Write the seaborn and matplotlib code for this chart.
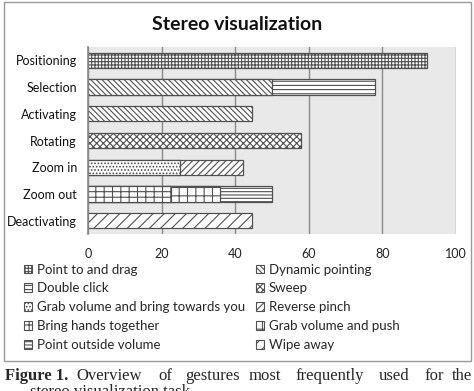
import matplotlib
matplotlib.use("Agg")
import matplotlib.pyplot as plt
from matplotlib.patches import Patch, Rectangle
import pandas as pd
import seaborn as sns

categories = ['Positioning', 'Selection', 'Activating', 'Rotating',
              'Zoom in', 'Zoom out', 'Deactivating']

gestures = ['Point to and drag', 'Dynamic pointing', 'Double click', 'Sweep',
            'Grab volume and bring towards you', 'Reverse pinch',
            'Bring hands together', 'Grab volume and push',
            'Point outside volume', 'Wipe away']

point_to_and_drag = [92, 0, 0, 0, 0, 0, 0]
dynamic_pointing = [0, 50, 44.5, 0, 0, 0, 0]
double_click = [0, 28, 0, 0, 0, 0, 0]
sweep = [0, 0, 0, 58, 0, 0, 0]
grab_bring = [0, 0, 0, 0, 25, 0, 0]
reverse_pinch = [0, 0, 0, 0, 17, 0, 0]
bring_hands = [0, 0, 0, 0, 0, 22.5, 0]
grab_push = [0, 0, 0, 0, 0, 13.5, 0]
point_outside = [0, 0, 0, 0, 0, 14, 0]
wipe_away = [0, 0, 0, 0, 0, 0, 44.5]

series = [point_to_and_drag, dynamic_pointing, double_click, sweep, grab_bring,
          reverse_pinch, bring_hands, grab_push, point_outside, wipe_away]
hatches = ['+++++', '\\' * 6, '----', 'xxxxx', '.....', '/' * 5,
           '---||', '++', '-----', '///']

sns.set_theme(style="white")
plt.rcParams['font.family'] = ['Lato', 'DejaVu Sans']
plt.rcParams['hatch.linewidth'] = 0.8
edge = '#505050'

fig = plt.figure(figsize=(4.74, 3.91), dpi=100)
fig.patch.set_facecolor('white')
ax = fig.add_axes([88 / 474, 1 - 234 / 391, (456 - 88) / 474, (234 - 47) / 391])
ax.set_facecolor('#e9e9e9')

# cumulative ends so the stacked bars can be drawn with seaborn, back to front
df = pd.DataFrame(dict(zip(gestures, series)), index=categories)
cum = df.cumsum(axis=1)
for i in range(len(gestures) - 1, -1, -1):
    g = gestures[i]
    sub = pd.DataFrame({'category': categories, 'end': cum[g].values,
                        'val': df[g].values})
    sub = sub[sub['val'] > 0]
    sns.barplot(data=sub, x='end', y='category', order=categories, orient='h',
                color='white', saturation=1, edgecolor=edge, linewidth=0.9,
                hatch=hatches[i], width=0.57, errorbar=None, ax=ax)

ax.set_xlim(0, 100)
ax.set_ylim(6.5, -0.5)
ax.set_xticks([0, 20, 40, 60, 80, 100])
ax.xaxis.grid(True, color='#8a8a8a', linewidth=1)
ax.set_axisbelow(True)
for s in ['top', 'right', 'bottom']:
    ax.spines[s].set_visible(False)
ax.spines['left'].set_color('#8a8a8a')
ax.tick_params(axis='x', length=0, pad=10, labelsize=9, colors='#222222')
ax.tick_params(axis='y', length=0, pad=8, labelsize=9, colors='#111111')
ax.set_xlabel('')
ax.set_ylabel('')

fig.text(237 / 474, 1 - 25 / 391, 'Stereo visualization', ha='center',
         va='center', fontsize=14, fontweight='bold', color='#111111')

handles = [Patch(facecolor='white', edgecolor=edge, hatch=h, linewidth=0.8)
           for h in hatches]
left = [0, 2, 4, 6, 8]
right = [1, 3, 5, 7, 9]
common = dict(frameon=False, borderpad=0, handlelength=0.65, handleheight=0.65,
              handletextpad=0.35, labelspacing=0.52, fontsize=9.5)
leg1 = fig.legend([handles[i] for i in left], [gestures[i] for i in left],
                  loc='upper left', bbox_to_anchor=(17 / 474, 1 - 257 / 391),
                  **common)
leg2 = fig.legend([handles[i] for i in right], [gestures[i] for i in right],
                  loc='upper left', bbox_to_anchor=(249 / 474, 1 - 257 / 391),
                  **common)

fig.patches.append(Rectangle((4 / 474, 1 - 361 / 391), 467 / 474, 359 / 391,
                             transform=fig.transFigure, fill=False,
                             edgecolor='#9a9a9a', linewidth=1))

# caption (justified in the paper)
serif = ['Liberation Serif', 'DejaVu Serif']
fig.text(5 / 474, 1 - 380 / 391, 'Figure 1.', family=serif, fontweight='bold',
         fontsize=12, va='baseline')
words = ['Overview', 'of', 'gestures', 'most', 'frequently', 'used', 'for']
word_x = [76, 158, 185, 249, 295, 379, 424]
for w, x in zip(words, word_x):
    fig.text(x / 474, 1 - 380 / 391, w, family=serif, fontsize=12, va='baseline')
fig.text(472 / 474, 1 - 380 / 391, 'the', family=serif, fontsize=12,
         va='baseline', ha='right')
fig.text(30 / 474, 1 - 396 / 391, 'stereo visualization task.', family=serif,
         fontsize=12, va='baseline')

fig.savefig('out.png', dpi=100)
